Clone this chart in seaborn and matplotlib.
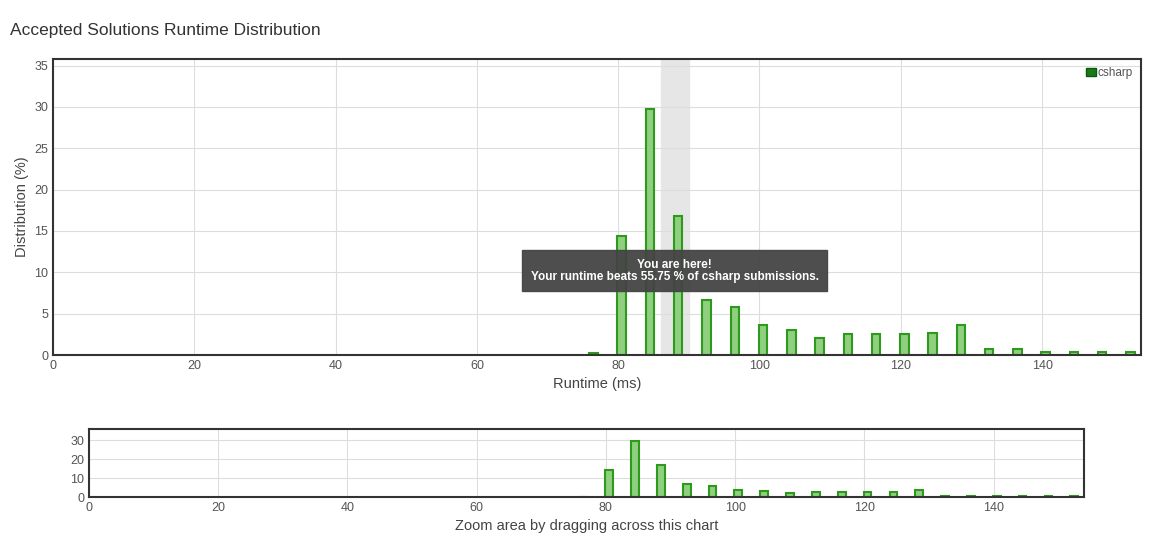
import matplotlib
matplotlib.use("Agg")
import matplotlib.pyplot as plt
import seaborn as sns
import pandas as pd
from matplotlib.patches import Patch

runtimes = [76.5, 80.5, 84.5, 88.5, 92.5, 96.5, 100.5, 104.5, 108.5, 112.5, 116.5, 120.5,
            124.5, 128.5, 132.5, 136.5, 140.5, 144.5, 148.5, 152.5]
distribution = [0.2, 14.4, 29.7, 16.8, 6.7, 5.8, 3.6, 3.0, 2.0, 2.6, 2.6, 2.5,
                2.7, 3.6, 0.7, 0.7, 0.4, 0.4, 0.4, 0.4]
df = pd.DataFrame({"runtime": runtimes, "dist": distribution})

plt.rcParams["font.family"] = "Liberation Sans"
W, H = 1161, 544
fig = plt.figure(figsize=(W/100, H/100), dpi=100)

def box(l, t, r, b):
    return [l/W, 1-b/H, (r-l)/W, (b-t)/H]

ax = fig.add_axes(box(53, 59, 1141, 355))
ax2 = fig.add_axes(box(89, 429, 1084, 497))

for a, yt in [(ax, [0, 5, 10, 15, 20, 25, 30, 35]), (ax2, [0, 10, 20, 30])]:
    a.set_axisbelow(True)
    a.grid(True, color="#dddddd", linewidth=0.8)
    sns.barplot(data=df, x="runtime", y="dist", native_scale=True, width=0.3,
                color="#8fcf7f", edgecolor="#2d9a1e", linewidth=1.5, saturation=1, ax=a)
    a.set_xlim(0, 154)
    a.set_ylim(0, 35.8)
    a.set_xticks(range(0, 141, 20))
    a.set_yticks(yt)
    a.tick_params(labelsize=9, colors="#555555", length=0)
    for s in a.spines.values():
        s.set_color("#333333")
        s.set_linewidth(1.5)
    a.set_ylabel("")
    a.set_xlabel("")

ax.axvspan(86, 90, color="#e6e6e6", zorder=0.5)
ax.set_xlabel("Runtime (ms)", fontsize=10.5, color="#444444")
ax.set_ylabel("Distribution (%)", fontsize=10.5, color="#444444")
ax2.set_xlabel("Zoom area by dragging across this chart", fontsize=10.5, color="#444444")

ax.legend(handles=[Patch(facecolor="#1a7a1a", edgecolor="#0a5a0a")], labels=["csharp"],
          loc="upper right", frameon=False, fontsize=8.5, handlelength=0.9,
          handletextpad=0.1, borderaxespad=0.3, labelcolor="#555555")

ax.text(88, 10.2, "You are here!\nYour runtime beats 55.75 % of csharp submissions.",
        ha="center", va="center", fontsize=8.5, color="white", fontweight="bold",
        linespacing=1.0,
        bbox=dict(boxstyle="square,pad=0.7", facecolor="#444444", edgecolor="#444444", alpha=0.95),
        zorder=10)

fig.text(10/W, 1-31/H, "Accepted Solutions Runtime Distribution", fontsize=12.5,
         color="#333333", va="center")

fig.savefig("out.png", dpi=100)
